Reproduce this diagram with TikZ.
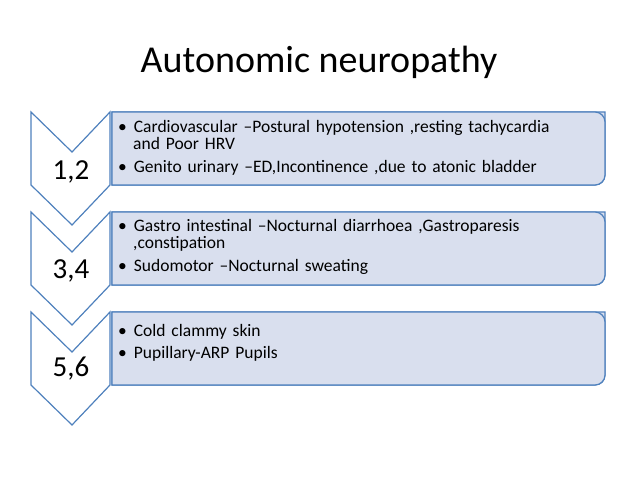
\documentclass[tikz,border=0pt]{standalone}
\usepackage{fontspec}
\setmainfont{Carlito}
\definecolor{edge}{HTML}{4F81BD}
\definecolor{boxfill}{HTML}{D9DFEE}
\begin{document}
\begin{tikzpicture}[x=1pt,y=-1pt,
  chev/.style={draw=edge,fill=white,line width=1.2pt,line join=miter},
  band/.style={draw=edge,fill=boxfill,line width=1.2pt},
  num/.style={font=\fontsize{29}{32}\selectfont},
  txt/.style={anchor=north west,align=left,font=\fontsize{17.5}{17.5}\selectfont,text width=480pt,inner sep=0pt}]
\useasboundingbox (0,0) rectangle (638,478);
\node[font=\fontsize{38}{42}\selectfont] (title) at (319,62) {Autonomic neuropathy};
\foreach \t/\n in {112/a,212/b,312/c}{
  \draw[band] (112,\t) -- (605,\t) [rounded corners=10pt] -- (605,\t+73) [sharp corners] -- (112,\t+73) -- cycle;
  \draw[band] (112,\t) [rounded corners=10pt] -- (605,\t) -- (605,\t+73) [sharp corners] -- (112,\t+73) -- cycle;
  \draw[chev] (31,\t) -- (72,\t+40) -- (110,\t) -- (110,\t+73) -- (72,\t+113) -- (31,\t+73) -- cycle;
}
\node[num] (n1) at (71,172) {1,2};
\node[num] (n2) at (71,271) {3,4};
\node[num] (n3) at (71,369) {5,6};
\node[txt] (t1) at (118,120) {\textbullet\hspace{7pt}Cardiovascular –Postural hypotension ,resting tachycardia\\\hspace*{15pt}and Poor HRV\\[5pt]\textbullet\hspace{7pt}Genito urinary –ED,Incontinence ,due to atonic bladder};
\node[txt] (t2) at (118,219) {\textbullet\hspace{7pt}Gastro intestinal –Nocturnal diarrhoea ,Gastroparesis\\\hspace*{15pt},constipation\\[5pt]\textbullet\hspace{7pt}Sudomotor –Nocturnal sweating};
\node[txt] (t3) at (118,324) {\textbullet\hspace{7pt}Cold clammy skin\\[5pt]\textbullet\hspace{7pt}Pupillary-ARP Pupils};
\end{tikzpicture}
\end{document}
